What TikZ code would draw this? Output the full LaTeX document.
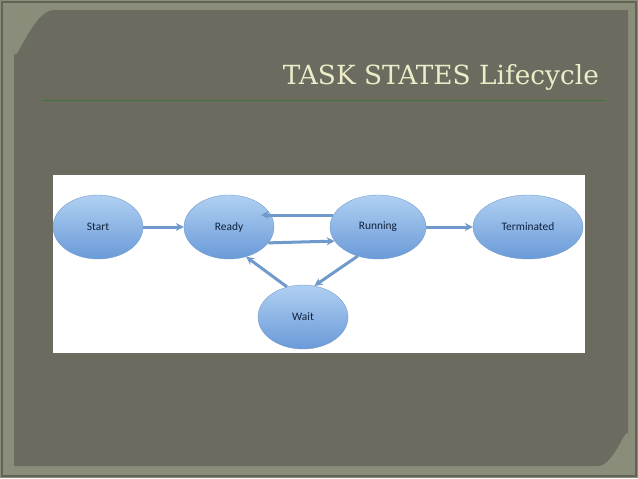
\documentclass[tikz,border=0pt]{standalone}
\usepackage{fontspec}
\setsansfont{Carlito}
\newfontfamily\titlefont{DejaVu Serif}
\usetikzlibrary{positioning,shapes,shadows,arrows.meta}
\definecolor{slide}{HTML}{8A8D7A}
\definecolor{panel}{HTML}{6B6C5F}
\definecolor{cream}{HTML}{EEEBC8}
\definecolor{topblue}{HTML}{B0D0F2}
\definecolor{botblue}{HTML}{6A9AD8}
\definecolor{edgeblue}{HTML}{6F9ACB}
\definecolor{navy}{HTML}{10203A}
\tikzstyle{StateNode}=[ellipse, draw=edgeblue, top color=topblue, bottom color=botblue, minimum height=25.6mm, text=navy, font=\sffamily\fontsize{13}{15}\selectfont]
\tikzstyle{Trans}=[-{Stealth[length=3.2mm,width=3.2mm]}, draw=edgeblue, line width=1.2mm]

\begin{document}
\begin{tikzpicture}[x=0.4mm, y=-0.4mm]
      \useasboundingbox (0,0) rectangle (638,478);
      \fill[slide] (0,0) rectangle (638,478);
      \draw[line width=0.8mm, black!30!slide] (2,2) rectangle (636,476);
      \fill[panel] (14,50) to[out=-90,in=180] (54,10) -- (628,10) -- (628,436) to[out=90,in=0] (598,466) -- (14,466) -- cycle;
      \node[anchor=base east, text=cream, font=\titlefont\fontsize{30}{32}\selectfont] (title) at (602,84) {TASK STATES Lifecycle};
      \draw[line width=0.4mm, black!50!green!40!panel] (42,100) -- (605,100);
      \fill[white] (53,175) rectangle (585,353);
      \node[StateNode, minimum width=36mm] (start) at (98,227) {Start};
      \node[StateNode, minimum width=36mm] (ready) at (229,227) {Ready};
      \node[StateNode, minimum width=38.4mm] (running) at (378,227) {Running};
      \node[StateNode, minimum width=44mm] (term) at (528,227) {Terminated};
      \node[StateNode, minimum width=36mm] (wait) at (303,317) {Wait};
      \draw[Trans] (start) -- (ready);
      \draw[Trans] (running.165) -- (ready.north east |- running.165);
      \draw[Trans] (ready.-22) -- (running.198);
      \draw[Trans] (running) -- (term);
      \draw[Trans] (running.235) -- (wait.70);
      \draw[Trans] (wait.118) -- (ready.-60);
\end{tikzpicture}
\end{document}
